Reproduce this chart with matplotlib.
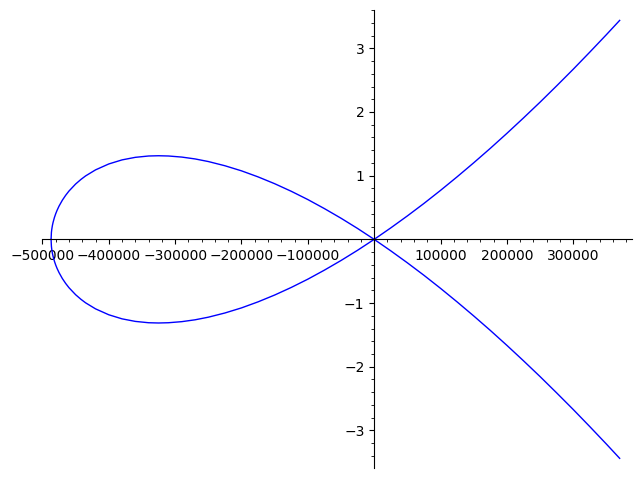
import matplotlib
matplotlib.use("Agg")
from matplotlib import pyplot as plt
from matplotlib.ticker import MultipleLocator, FuncFormatter

x_pts = [-487000, -486500, -486000, -485000, -484000, -482000, -480000, -478000,
         -475000, -470000, -465000, -460000, -450000, -442000,
         -435000, -420000, -400000, -380000, -360000, -340000, -325000, -310000,
         -290000, -270000, -250000, -225000, -200000, -175000, -150000, -125000,
         -100000, -75000, -50000, -25000, 0, 25000, 50000, 75000, 100000,
         125000, 150000, 175000, 200000, 225000, 250000, 275000, 300000,
         325000, 350000, 370000]
y_pts = [0.0, 0.109, 0.154, 0.218, 0.266, 0.342, 0.403, 0.455,
         0.522, 0.615, 0.692, 0.759, 0.869, 0.941,
         0.996, 1.091, 1.184, 1.248, 1.288, 1.309, 1.313, 1.309,
         1.292, 1.263, 1.222, 1.156, 1.076, 0.981, 0.874, 0.755,
         0.625, 0.483, 0.332, 0.171, 0.0, 0.180, 0.368, 0.564, 0.769,
         0.982, 1.202, 1.429, 1.664, 1.906, 2.154, 2.410, 2.671,
         2.940, 3.214, 3.438]

fig = plt.figure(figsize=(6.4, 4.78), dpi=100)
ax = fig.add_axes([0.0656, 0.0209, 0.922, 0.958])

ax.plot(x_pts, y_pts, color="blue", linewidth=1)
ax.plot(x_pts, [-v for v in y_pts], color="blue", linewidth=1)

ax.set_xlim(-500700, 388700)
ax.set_ylim(-3.59, 3.6)

ax.spines["left"].set_position(("data", 0))
ax.spines["bottom"].set_position(("data", 0))
ax.spines["top"].set_visible(False)
ax.spines["right"].set_visible(False)

ax.xaxis.set_major_locator(MultipleLocator(100000))
ax.xaxis.set_minor_locator(MultipleLocator(20000))
ax.yaxis.set_major_locator(MultipleLocator(1))
ax.yaxis.set_minor_locator(MultipleLocator(0.2))


def fmt(v, pos):
    # no label at zero, like sage; real minus sign
    if v == 0:
        return ""
    return ("%d" % round(v)).replace("-", "\u2212")


ax.xaxis.set_major_formatter(FuncFormatter(fmt))
ax.yaxis.set_major_formatter(FuncFormatter(fmt))

ax.tick_params(labelsize=10)

fig.savefig("out.png", dpi=100)
